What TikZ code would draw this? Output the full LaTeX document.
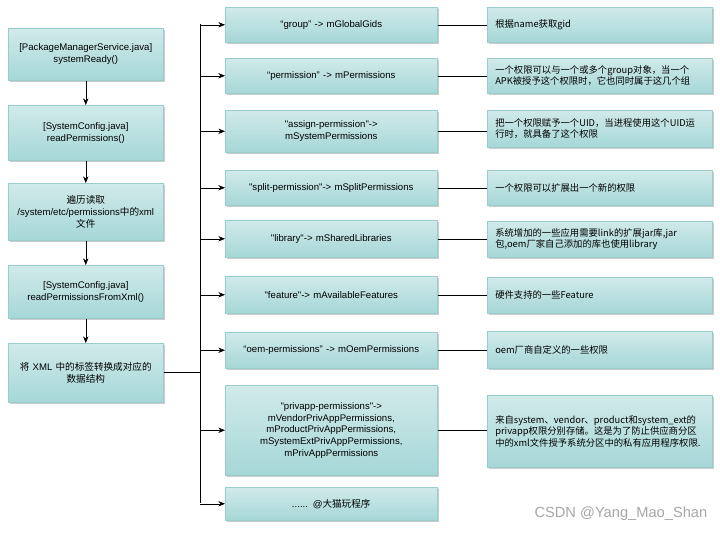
\documentclass[tikz,border=0pt]{standalone}
\usepackage{fontspec}
\setmainfont{Noto Sans CJK SC}
\newfontfamily\lat{Liberation Sans}
\newfontfamily\cjk{Noto Sans CJK SC}
\XeTeXlinebreaklocale "zh"
\XeTeXlinebreakskip=0pt
\usetikzlibrary{arrows.meta,shadows}
\begin{document}
\begin{tikzpicture}[x=0.75pt,y=-0.75pt,
  box/.style={draw=white!60!teal,top color=cyan!8!teal!18,bottom color=cyan!10!teal!35,drop shadow={shadow xshift=1pt,shadow yshift=-1pt,fill=black!40},
    inner sep=2pt,font=\lat\fontsize{7.2}{8.8}\selectfont,align=center},
  rbox/.style={box,align=left,font=\cjk\fontsize{7}{8.6}\selectfont},
  arr/.style={-{Stealth[length=5pt,width=4pt]},thin},
  ln/.style={thin}]
\useasboundingbox (0,0) rectangle (720,533);
\def\B#1#2#3#4#5#6{\node[box,minimum width={(#4-#2)*0.75pt},minimum height={(#5-#3)*0.75pt},anchor=north west,text width={(#4-#2-8)*0.75pt}] (#1) at (#2,#3) {#6};}
\def\R#1#2#3#4#5#6{\node[rbox,minimum width={(#4-#2)*0.75pt},minimum height={(#5-#3)*0.75pt},anchor=north west,text width={(#4-#2-16)*0.75pt}] (#1) at (#2,#3) {#6};}
% left column
\B{l1}{8}{28}{163}{80}{[PackageManagerService.java]\\systemReady()}
\B{l2}{8}{105}{163}{160}{[SystemConfig.java]\\readPermissions()}
\B{l3}{8}{183}{163}{240}{{\cjk 遍历读取}\\/system/etc/permissions{\cjk 中的}xml\\{\cjk 文件}}
\B{l4}{8}{265}{163}{318}{[SystemConfig.java]\\readPermissionsFromXml()}
\B{l5}{8}{343}{163}{402}{{\cjk 将} XML {\cjk 中的标签转换成对应的}\\{\cjk 数据结构}}
\foreach \a/\b in {l1/l2,l2/l3,l3/l4,l4/l5} \draw[arr] (\a) -- (\b);
% middle
\B{m1}{225}{7}{437}{42}{“group” -> mGlobalGids}
\B{m2}{225}{58}{437}{93}{“permission” -> mPermissions}
\B{m3}{225}{110}{437}{152}{"assign-permission"->\\mSystemPermissions}
\B{m4}{225}{170}{437}{205}{"split-permission"-> mSplitPermissions}
\B{m5}{225}{220}{437}{257}{"library"-> mSharedLibraries}
\B{m6}{225}{276}{437}{313}{"feature"-> mAvailableFeatures}
\B{m7}{225}{332}{437}{368}{“oem-permissions” -> mOemPermissions}
\B{m8}{225}{385}{437}{475}{"privapp-permissions"->\\mVendorPrivAppPermissions,\\mProductPrivAppPermissions,\\mSystemExtPrivAppPermissions,\\mPrivAppPermissions}
\B{m9}{225}{487}{437}{520}{...... @{\cjk 大猫玩程序}}
% right
\R{r1}{487}{7}{712}{42}{根据name获取gid}
\R{r2}{487}{58}{712}{93}{一个权限可以与一个或多个group对象，当一个APK被授予这个权限时，它也同时属于这几个组}
\R{r3}{487}{110}{712}{147}{把一个权限赋予一个UID，当进程使用这个UID运行时，就具备了这个权限}
\R{r4}{487}{170}{712}{205}{一个权限可以扩展出一个新的权限}
\R{r5}{487}{221}{712}{257}{系统增加的一些应用需要link的扩展jar库,jar包,oem厂家自己添加的库也使用library}
\R{r6}{487}{277}{712}{313}{硬件支持的一些Feature}
\R{r7}{487}{331}{712}{368}{oem厂商自定义的一些权限}
\R{r8}{487}{395}{712}{467}{来自system、vendor、product和system\_ext的privapp权限分别存储。这是为了防止供应商分区中的xml文件授予系统分区中的私有应用程序权限.}
% connectors
\coordinate (j) at (200,372);
\draw[ln] (l5.east |- j) -- (j);
\draw[ln] (200,24) -- (200,503);
\foreach \m in {m1,m2,m3,m4,m5,m6,m7,m8,m9} \draw[arr] (200,0 |- \m.west) -- (\m.west);
\foreach \i in {1,...,8} \draw[ln] (m\i.east) -- (m\i.east -| r\i.west);
\node[text=gray!70,font=\lat\fontsize{11}{12}\selectfont,anchor=east] (wm) at (712,514) {CSDN @Yang\_Mao\_Shan};
\end{tikzpicture}
\end{document}
